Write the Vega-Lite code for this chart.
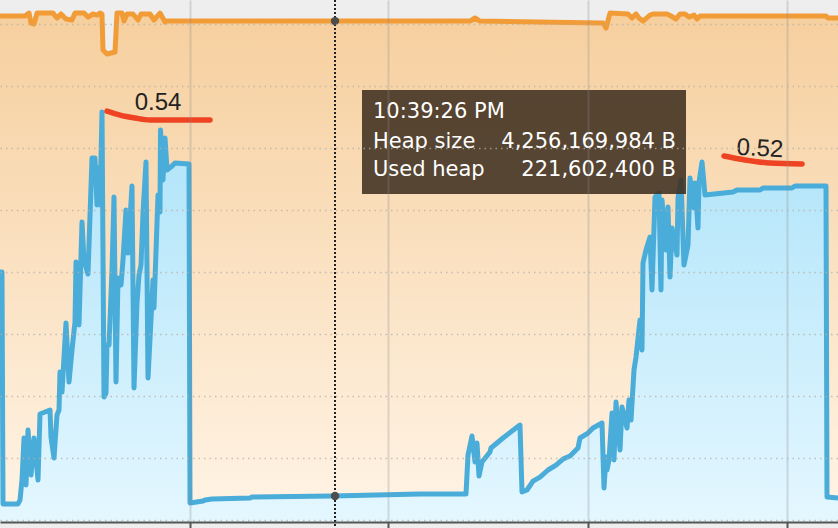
{
  "$schema": "https://vega.github.io/schema/vega-lite/v6.json",
  "width": 838,
  "height": 522,
  "padding": {"left": 0, "top": 0, "right": 0, "bottom": 6},
  "autosize": {"type": "none"},
  "background": "#eeeeee",
  "config": {"view": {"stroke": null}},
  "datasets": {
    "heap": [
      {"t":0,"mb":4301},{"t":25,"mb":4301},{"t":29,"mb":4326},{"t":31,"mb":4241},{"t":34,"mb":4233},{"t":37,"mb":4326},{"t":53,"mb":4326},{"t":57,"mb":4284},{"t":61,"mb":4318},{"t":66,"mb":4275},{"t":72,"mb":4267},{"t":75,"mb":4326},{"t":84,"mb":4326},{"t":88,"mb":4292},{"t":93,"mb":4318},{"t":97,"mb":4309},{"t":100,"mb":4326},{"t":102,"mb":4318},{"t":103,"mb":4012},{"t":107,"mb":3978},{"t":115,"mb":3995},{"t":117,"mb":4326},{"t":122,"mb":4326},{"t":124,"mb":4258},{"t":127,"mb":4318},{"t":133,"mb":4318},{"t":138,"mb":4267},{"t":141,"mb":4318},{"t":150,"mb":4318},{"t":154,"mb":4267},{"t":160,"mb":4326},{"t":165,"mb":4250},{"t":166,"mb":4258},{"t":470,"mb":4258},{"t":475,"mb":4284},{"t":480,"mb":4258},{"t":600,"mb":4241},{"t":603,"mb":4241},{"t":606,"mb":4199},{"t":610,"mb":4326},{"t":628,"mb":4318},{"t":632,"mb":4284},{"t":636,"mb":4318},{"t":639,"mb":4284},{"t":643,"mb":4258},{"t":650,"mb":4309},{"t":653,"mb":4318},{"t":667,"mb":4318},{"t":671,"mb":4301},{"t":676,"mb":4275},{"t":680,"mb":4318},{"t":685,"mb":4318},{"t":689,"mb":4292},{"t":694,"mb":4309},{"t":697,"mb":4275},{"t":700,"mb":4301},{"t":826,"mb":4301},{"t":828,"mb":4284},{"t":838,"mb":4284}
    ],
    "used": [
      {"t":0,"mb":2125},{"t":2,"mb":2125},{"t":3,"mb":153},{"t":18,"mb":153},{"t":20,"mb":187},{"t":22,"mb":357},{"t":24,"mb":714},{"t":26,"mb":315},{"t":28,"mb":782},{"t":31,"mb":400},{"t":34,"mb":714},{"t":38,"mb":357},{"t":40,"mb":918},{"t":50,"mb":952},{"t":51,"mb":722},{"t":54,"mb":544},{"t":57,"mb":910},{"t":59,"mb":952},{"t":60,"mb":1275},{"t":62,"mb":1105},{"t":66,"mb":1692},{"t":69,"mb":1190},{"t":72,"mb":1462},{"t":75,"mb":1700},{"t":76,"mb":2210},{"t":79,"mb":1675},{"t":82,"mb":2550},{"t":84,"mb":2227},{"t":88,"mb":2108},{"t":92,"mb":3094},{"t":95,"mb":3094},{"t":97,"mb":2695},{"t":98,"mb":3009},{"t":100,"mb":2695},{"t":102,"mb":3485},{"t":104,"mb":1062},{"t":106,"mb":1096},{"t":107,"mb":1504},{"t":109,"mb":1504},{"t":112,"mb":2142},{"t":114,"mb":2762},{"t":116,"mb":1190},{"t":118,"mb":2074},{"t":121,"mb":2014},{"t":123,"mb":2227},{"t":126,"mb":2652},{"t":128,"mb":2286},{"t":132,"mb":2856},{"t":134,"mb":1139},{"t":137,"mb":1861},{"t":139,"mb":2099},{"t":141,"mb":2184},{"t":143,"mb":2626},{"t":146,"mb":3060},{"t":148,"mb":1224},{"t":153,"mb":2057},{"t":154,"mb":1819},{"t":158,"mb":2779},{"t":160,"mb":2635},{"t":160.5,"mb":3332},{"t":163,"mb":2907},{"t":165,"mb":3264},{"t":167,"mb":2992},{"t":172,"mb":3026},{"t":175,"mb":3051},{"t":189,"mb":3043},{"t":190,"mb":161},{"t":203,"mb":178},{"t":205,"mb":187},{"t":212,"mb":195},{"t":250,"mb":204},{"t":252,"mb":212},{"t":332,"mb":221},{"t":420,"mb":238},{"t":466,"mb":238},{"t":468,"mb":569},{"t":472,"mb":731},{"t":475,"mb":510},{"t":477,"mb":671},{"t":479,"mb":391},{"t":482,"mb":510},{"t":490,"mb":595},{"t":491,"mb":629},{"t":503,"mb":714},{"t":512,"mb":773},{"t":520,"mb":824},{"t":522,"mb":255},{"t":527,"mb":272},{"t":533,"mb":348},{"t":540,"mb":382},{"t":548,"mb":442},{"t":556,"mb":484},{"t":563,"mb":535},{"t":570,"mb":561},{"t":578,"mb":629},{"t":580,"mb":714},{"t":588,"mb":756},{"t":593,"mb":799},{"t":602,"mb":841},{"t":604,"mb":289},{"t":606,"mb":552},{"t":607,"mb":442},{"t":609,"mb":527},{"t":612,"mb":926},{"t":614,"mb":527},{"t":616,"mb":1020},{"t":620,"mb":612},{"t":622,"mb":977},{"t":627,"mb":799},{"t":629,"mb":1037},{"t":631,"mb":867},{"t":634,"mb":1292},{"t":636,"mb":1402},{"t":640,"mb":1717},{"t":642,"mb":1462},{"t":643,"mb":2201},{"t":646,"mb":2312},{"t":650,"mb":2422},{"t":652,"mb":1972},{"t":655,"mb":2762},{"t":659,"mb":2796},{"t":661,"mb":1972},{"t":662,"mb":2737},{"t":666,"mb":2312},{"t":668,"mb":2677},{"t":670,"mb":2082},{"t":672,"mb":2499},{"t":677,"mb":2269},{"t":678,"mb":2754},{"t":681,"mb":2907},{"t":684,"mb":2184},{"t":688,"mb":2354},{"t":690,"mb":2924},{"t":694,"mb":2669},{"t":695,"mb":2881},{"t":698,"mb":2499},{"t":699,"mb":2890},{"t":702,"mb":3060},{"t":705,"mb":2779},{"t":733,"mb":2805},{"t":737,"mb":2822},{"t":760,"mb":2822},{"t":763,"mb":2839},{"t":792,"mb":2839},{"t":795,"mb":2856},{"t":826,"mb":2856},{"t":827,"mb":212},{"t":838,"mb":204}
    ],
    "marks": [
      {"group":"a","t":107,"mb":3493},{"group":"a","t":120,"mb":3459},{"group":"a","t":135,"mb":3434},{"group":"a","t":150,"mb":3417},{"group":"a","t":210,"mb":3417},
      {"group":"b","t":724,"mb":3111},{"group":"b","t":745,"mb":3077},{"group":"b","t":770,"mb":3051},{"group":"b","t":802,"mb":3043}
    ]
  },
  "encoding": {
    "x": {"field": "t", "type": "quantitative", "scale": {"domain": [0, 838], "nice": false}},
    "y": {"field": "mb", "type": "quantitative", "scale": {"domain": [0, 4437], "nice": false, "zero": false}}
  },
  "layer": [
    {
      "data": {"name": "heap"},
      "mark": {"type": "area", "color": {"gradient": "linear", "x1": 0, "y1": 0, "x2": 0, "y2": 1, "stops": [{"offset": 0, "color": "#f6cf9e"}, {"offset": 1, "color": "#fff4e6"}]}}
    },
    {
      "data": {"name": "used"},
      "mark": {"type": "area", "color": {"gradient": "linear", "x1": 0, "y1": 0, "x2": 0, "y2": 1, "stops": [{"offset": 0, "color": "#ade3f9"}, {"offset": 1, "color": "#e4f7ff"}]}},
      "encoding": {
        "x": {
          "field": "t", "type": "quantitative", "title": null,
          "axis": {"values": [190, 388, 588, 787], "labels": false, "title": null, "grid": true, "gridColor": "#8a8a8a", "gridOpacity": 0.28, "gridWidth": 2, "domainColor": "#555555", "domainWidth": 2, "tickColor": "#555555", "tickWidth": 2, "tickSize": 6, "zindex": 1}
        },
        "y": {
          "field": "mb", "type": "quantitative", "title": null,
          "axis": {"values": [17, 544, 1071, 1598, 2125, 2652, 3179, 3706, 4233], "labels": false, "ticks": false, "domain": false, "title": null, "grid": true, "gridColor": "#b5b0a8", "gridOpacity": 0.75, "gridDash": [1.5, 4], "gridWidth": 1.5, "zindex": 1}
        }
      }
    },
    {
      "data": {"name": "heap"},
      "mark": {"type": "line", "color": "#f29c38", "strokeWidth": 5, "strokeJoin": "round"}
    },
    {
      "data": {"name": "used"},
      "mark": {"type": "line", "color": "#4aacd9", "strokeWidth": 5, "strokeJoin": "round"}
    },
    {
      "data": {"values": [{"t": 335}]},
      "mark": {"type": "rule", "color": "#222222", "strokeDash": [2, 2], "strokeWidth": 2},
      "encoding": {"y": {"value": 0}, "y2": {"value": 528}}
    },
    {
      "data": {"values": [{"t": 335, "mb": 4258}, {"t": 335, "mb": 221}]},
      "mark": {"type": "point", "filled": true, "color": "#4d4d4d", "size": 70, "opacity": 1}
    },
    {
      "data": {"values": [{"start": 362, "end": 686, "top": 3672, "bottom": 2788}]},
      "mark": {"type": "rect", "color": "#3f3020", "opacity": 0.88},
      "encoding": {
        "x": {"field": "start", "type": "quantitative"},
        "x2": {"field": "end"},
        "y": {"field": "top", "type": "quantitative"},
        "y2": {"field": "bottom"}
      }
    },
    {
      "data": {"values": [{"t": 373, "mb": 3485, "label": "10:39:26 PM"}, {"t": 373, "mb": 3230, "label": "Heap size"}, {"t": 373, "mb": 2992, "label": "Used heap"}]},
      "mark": {"type": "text", "align": "left", "baseline": "middle", "font": "DejaVu Sans", "fontSize": 21, "color": "#ffffff"},
      "encoding": {"text": {"field": "label"}}
    },
    {
      "data": {"values": [{"t": 676, "mb": 3230, "label": "4,256,169,984 B"}, {"t": 676, "mb": 2992, "label": "221,602,400 B"}]},
      "mark": {"type": "text", "align": "right", "baseline": "middle", "font": "DejaVu Sans", "fontSize": 21, "color": "#ffffff"},
      "encoding": {"text": {"field": "label"}}
    },
    {
      "data": {"name": "marks"},
      "mark": {"type": "line", "color": "#ee4423", "strokeWidth": 5.5, "strokeCap": "round", "interpolate": "monotone"},
      "encoding": {"detail": {"field": "group"}}
    },
    {
      "data": {"values": [{"t": 158, "mb": 3561, "label": "0.54", "tilt": 0}, {"t": 760, "mb": 3170, "label": "0.52", "tilt": 3}]},
      "mark": {"type": "text", "font": "Liberation Sans", "fontSize": 24, "color": "#222222", "baseline": "middle"},
      "encoding": {"text": {"field": "label"}, "angle": {"field": "tilt", "type": "quantitative", "scale": null}}
    }
  ]
}
